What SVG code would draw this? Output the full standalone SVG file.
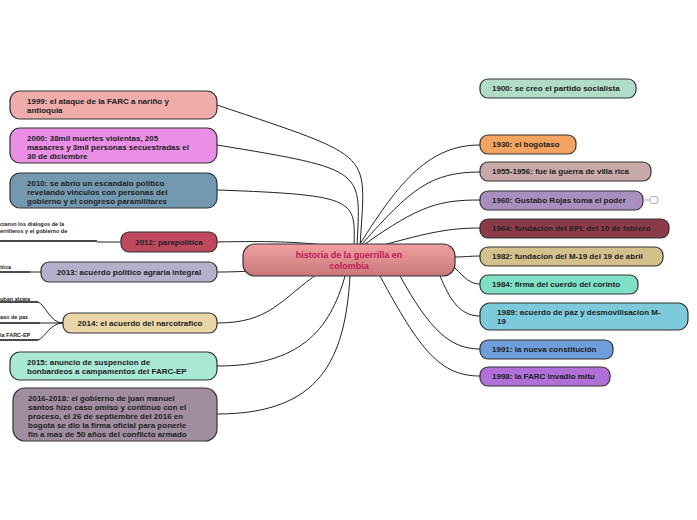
<svg xmlns="http://www.w3.org/2000/svg" width="697" height="520" viewBox="0 0 697 520">
<style>
text{font-family:"Liberation Sans",Arial,sans-serif;font-weight:bold;font-size:8px;fill:#222}
text.sm{font-size:5.5px}
text.ctr{font-size:9px;fill:#c2185b}
.n{stroke:#333;stroke-width:1.2}
.c path{fill:none;stroke:#222;stroke-width:1}
.s{fill:none;stroke:#111;stroke-width:1.5}
</style>
<defs><linearGradient id="g" x1="0" y1="0" x2="0" y2="1"><stop offset="0" stop-color="#f0a0a0"/><stop offset="1" stop-color="#c87878"/></linearGradient></defs>
<rect width="697" height="520" fill="#fff"/>
<g class="c">
<path d="M360,248 C365,150 380,160 217,105"/>
<path d="M357,248 C360,170 370,170 217,145"/>
<path d="M354,248 C355,200 360,195 217,190"/>
<path d="M350,250 C330,245 300,240 217,242"/>
<path d="M300,262 C280,268 260,272 217,272"/>
<path d="M320,272 C280,300 270,323 217,323"/>
<path d="M345,276 C330,330 300,366 217,366"/>
<path d="M350,276 C345,360 320,414 217,414"/>
<path d="M360,244 C400,180 430,145 480,145"/>
<path d="M362,244 C410,190 430,172 480,172"/>
<path d="M365,244 C420,205 440,200 480,200"/>
<path d="M380,246 C430,232 450,228 480,228"/>
<path d="M455,257 C465,257 470,256 480,256"/>
<path d="M455,268 C465,278 470,284 480,284"/>
<path d="M440,276 C450,300 460,316 480,316"/>
<path d="M400,276 C430,330 450,349 480,349"/>
<path d="M380,276 C420,350 440,376 480,376"/>
<path d="M121,242 H97"/>
<path d="M41,272 H30"/>
<path d="M63,323 C50,323 45,304 38,302"/>
<path d="M63,323 H40"/>
<path d="M63,323 C50,323 45,338 38,340"/>
</g>
<path class="s" d="M0,241 H97 M0,272 H30 M0,302 H38 M0,323 H40 M0,340 H38"/>
<g id="t2012sub"><text class="sm" x="0" y="226">ciaron los dialogos de la</text><text class="sm" x="0" y="233">errilleros y el gobierno de</text></g>
<g id="t2013sub"><text class="sm" x="0" y="269">itica</text></g>
<g id="t2014sub"><text class="sm" x="0" y="301">uban alzata</text><text class="sm" x="0" y="319">aso de paz</text><text class="sm" x="0" y="337">la FARC-EP</text></g>
<g id="center"><rect class="n" x="243" y="244" width="212" height="32" rx="12" fill="url(#g)"/><text class="ctr" x="349" y="258" text-anchor="middle">historia de la guerrilla en</text><text class="ctr" x="349" y="269" text-anchor="middle">colombia</text></g>
<g id="n1999"><rect class="n" x="10" y="91" width="207" height="28" rx="10" fill="#f0abab"/><text x="27" y="104">1999: el ataque de la FARC a nariño y</text><text x="27" y="113">antioquia</text></g>
<g id="n2000"><rect class="n" x="10" y="128" width="207" height="35" rx="10" fill="#ea8fe6"/><text x="27" y="141">2000: 38mil muertes violentas, 205</text><text x="27" y="150">masacres y 3mil personas secuestradas el</text><text x="27" y="159">30 de diciembre</text></g>
<g id="n2010"><rect class="n" x="10" y="173" width="207" height="35" rx="10" fill="#7399b0"/><text x="27" y="186">2010: se abrio un escandalo politico</text><text x="27" y="195">revelando vinculos con personas del</text><text x="27" y="204">gobierno y el congreso paramilitares</text></g>
<g id="n2012"><rect class="n" x="121" y="232" width="96" height="20" rx="8" fill="#c0485e"/><text x="169" y="245" text-anchor="middle">2012: parapolitica</text></g>
<g id="n2013"><rect class="n" x="41" y="262" width="176" height="20" rx="8" fill="#b3b0cc"/><text x="129" y="275" text-anchor="middle">2013: acuerdo politico agraria integral</text></g>
<g id="n2014"><rect class="n" x="63" y="313" width="154" height="20" rx="8" fill="#ead5a6"/><text x="140" y="326" text-anchor="middle">2014: el acuerdo del narcotrafico</text></g>
<g id="n2015"><rect class="n" x="10" y="352" width="207" height="28" rx="10" fill="#a8e8d4"/><text x="27" y="365">2015: anuncio de suspencion de</text><text x="27" y="374">bonbardeos a campamentos del FARC-EP</text></g>
<g id="n2016"><rect class="n" x="13" y="388" width="204" height="53" rx="12" fill="#a08ea0"/><text x="28" y="401">2016-2018: el gobierno de juan manuel</text><text x="28" y="410">santos hizo caso omiso y continuo con el</text><text x="28" y="419">proceso, el 26 de septiembre del 2016 en</text><text x="28" y="428">bogota se dio la firma oficial para ponerle</text><text x="28" y="437">fin a mas de 50 años del conflicto armado</text></g>
<g id="n1900"><rect class="n" x="480" y="79" width="156" height="19" rx="8" fill="#b0dcc8"/><text x="492" y="91">1900: se creo el partido socialista</text></g>
<g id="n1930"><rect class="n" x="480" y="135" width="96" height="19" rx="8" fill="#f4a460"/><text x="492" y="147">1930: el bogotaso</text></g>
<g id="n1955"><rect class="n" x="480" y="162" width="171" height="19" rx="8" fill="#c8a8a8"/><text x="492" y="174">1955-1956: fue la guerra de villa rica</text></g>
<g id="n1960"><rect class="n" x="480" y="191" width="163" height="19" rx="8" fill="#a98fc0"/><text x="492" y="203">1960: Gustabo Rojas toma el poder</text><path d="M643,200 H650" stroke="#999" stroke-width="0.8"/><circle cx="654" cy="200" r="4" fill="#fff" stroke="#999" stroke-width="0.8"/></g>
<g id="n1964"><rect class="n" x="480" y="219" width="189" height="19" rx="8" fill="#8b3a4a"/><text x="492" y="231">1964: fundacion del EPL del 10 de febrero</text></g>
<g id="n1982"><rect class="n" x="480" y="247" width="183" height="19" rx="8" fill="#d4c08a"/><text x="492" y="259">1982: fundacion del M-19 del 19 de abril</text></g>
<g id="n1984"><rect class="n" x="480" y="275" width="158" height="19" rx="8" fill="#7fe0c8"/><text x="492" y="287">1984: firma del cuerdo del corinto</text></g>
<g id="n1989"><rect class="n" x="480" y="303" width="208" height="27" rx="10" fill="#7ccadb"/><text x="497" y="315">1989: acuerdo de paz y desmovilisacion M-</text><text x="497" y="324">19</text></g>
<g id="n1991"><rect class="n" x="480" y="340" width="133" height="19" rx="8" fill="#6f9fdb"/><text x="492" y="352">1991: la nueva constitución</text></g>
<g id="n1998"><rect class="n" x="480" y="367" width="130" height="19" rx="8" fill="#b070d8"/><text x="492" y="379">1998: la FARC invadio mitu</text></g>
</svg>
